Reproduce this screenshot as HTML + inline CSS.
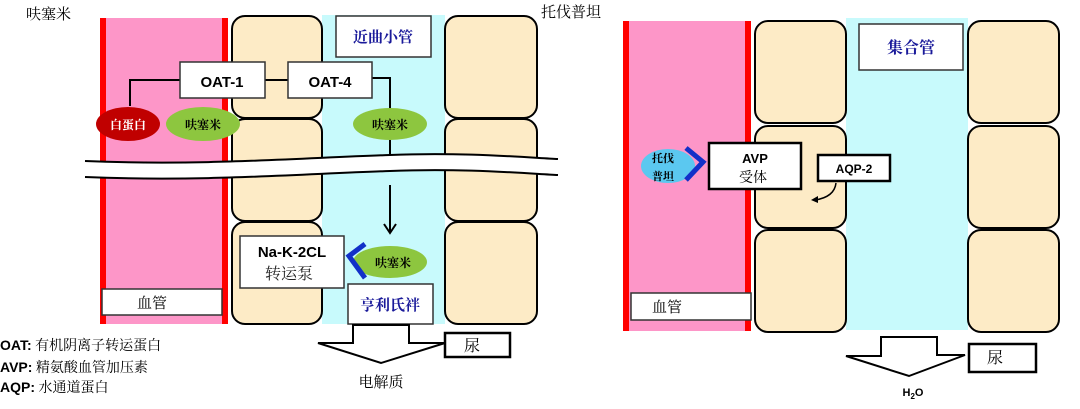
<!DOCTYPE html>
<html><head><meta charset="utf-8"><style>
html,body{margin:0;padding:0;background:#fff;}
svg{display:block;}
text{font-family:"Liberation Serif","Noto Serif CJK SC","Noto Sans CJK SC",serif;}
.b{font-family:"Liberation Sans","Noto Sans CJK SC",sans-serif;font-weight:bold;}
</style></head><body>
<svg width="1080" height="409" viewBox="0 0 1080 409" xmlns="http://www.w3.org/2000/svg">
<!-- LEFT PANEL -->
<text x="26" y="19" font-size="15">呋塞米</text>
<rect x="100" y="18" width="128" height="306" fill="#fd96c8"/>
<rect x="100" y="18" width="6" height="306" fill="#f00"/>
<rect x="222" y="18" width="6" height="306" fill="#f00"/>
<rect x="322" y="15" width="123" height="309" fill="#c8fafc"/>
<g fill="#fdebc6" stroke="#000" stroke-width="2">
<rect x="232" y="16" width="90" height="102" rx="13"/>
<rect x="232" y="119" width="90" height="102" rx="13"/>
<rect x="232" y="222" width="90" height="102" rx="13"/>
<rect x="445" y="16" width="92" height="102" rx="13"/>
<rect x="445" y="119" width="92" height="102" rx="13"/>
<rect x="445" y="222" width="92" height="102" rx="13"/>
</g>
<g fill="none" stroke="#000" stroke-width="2">
<path d="M130,106 V80 H180"/>
<path d="M265,80 H288"/>
<path d="M372,78 H390 V110"/>
<path d="M390,140 V160"/>
<path d="M390,185 V233"/>
<path d="M384,224 L390,233 L396,224"/>
</g>
<path d="M85,161 C200,166 300,158 390,155 C460,152 520,157 558,159 L558,175 C520,173 460,168 390,171 C300,174 200,182 85,177 Z" fill="#fff"/>
<path d="M85,161 C200,166 300,158 390,155 C460,152 520,157 558,159" fill="none" stroke="#000" stroke-width="2"/>
<path d="M85,177 C200,182 300,174 390,171 C460,168 520,173 558,175" fill="none" stroke="#000" stroke-width="2"/>
<g fill="#fff" stroke="#333" stroke-width="1.5">
<rect x="336" y="16" width="95" height="41"/>
<rect x="180" y="62" width="85" height="36"/>
<rect x="288" y="62" width="84" height="36"/>
<rect x="240" y="236" width="104" height="52"/>
<rect x="348" y="284" width="85" height="40"/>
<rect x="102" y="289" width="120" height="26"/>
</g>
<text x="383" y="42" font-size="15" fill="#1a1a9a" text-anchor="middle" font-weight="bold">近曲小管</text>
<text x="222" y="87" class="b" font-size="15" text-anchor="middle">OAT-1</text>
<text x="330" y="87" class="b" font-size="15" text-anchor="middle">OAT-4</text>
<ellipse cx="128" cy="124" rx="32" ry="17" fill="#c00000"/>
<text x="128" y="129" font-size="12" fill="#fff" text-anchor="middle" font-weight="bold">白蛋白</text>
<ellipse cx="203" cy="124" rx="37" ry="17" fill="#8dc63f"/>
<text x="203" y="129" font-size="12" text-anchor="middle" font-weight="bold">呋塞米</text>
<ellipse cx="390" cy="124" rx="37" ry="16" fill="#8dc63f"/>
<text x="390" y="129" font-size="12" text-anchor="middle" font-weight="bold">呋塞米</text>
<ellipse cx="390" cy="262" rx="37" ry="16" fill="#8dc63f"/>
<text x="393" y="267" font-size="12" text-anchor="middle" font-weight="bold">呋塞米</text>
<path d="M365,244 L349,256 L365,278" fill="none" stroke="#1230c8" stroke-width="5"/>
<text x="292" y="257" class="b" font-size="15" text-anchor="middle">Na-K-2CL</text>
<text x="289" y="279" font-size="16" text-anchor="middle" fill="#222">转运泵</text>
<text x="390" y="310" font-size="15" fill="#1a1a9a" text-anchor="middle" font-weight="bold">亨利氏袢</text>
<text x="152" y="308" font-size="15" text-anchor="middle">血管</text>
<path d="M353,325 H409 V343 H445 L381,363 L318,343 H353 Z" fill="#fff" stroke="#000" stroke-width="2"/>
<rect x="445" y="333" width="65" height="24" fill="#fff" stroke="#000" stroke-width="2.5"/>
<text x="472" y="351" font-size="16" text-anchor="middle">尿</text>
<text x="381" y="387" font-size="15" text-anchor="middle">电解质</text>
<text x="0" y="350" font-size="14"><tspan class="b" font-weight="normal">OAT:</tspan> 有机阴离子转运蛋白</text>
<text x="0" y="372" font-size="14"><tspan class="b" font-weight="normal">AVP:</tspan> 精氨酸血管加压素</text>
<text x="0" y="392" font-size="14"><tspan class="b" font-weight="normal">AQP:</tspan>  水通道蛋白</text>

<!-- RIGHT PANEL -->
<text x="541" y="17" font-size="15">托伐普坦</text>
<rect x="623" y="21" width="128" height="310" fill="#fd96c8"/>
<rect x="623" y="21" width="6" height="310" fill="#f00"/>
<rect x="745" y="21" width="6" height="310" fill="#f00"/>
<rect x="846" y="18" width="122" height="312" fill="#c8fafc"/>
<g fill="#fdebc6" stroke="#000" stroke-width="2">
<rect x="755" y="21" width="91" height="102" rx="13"/>
<rect x="755" y="126" width="91" height="102" rx="13"/>
<rect x="755" y="230" width="91" height="102" rx="13"/>
<rect x="968" y="21" width="91" height="102" rx="13"/>
<rect x="968" y="126" width="91" height="102" rx="13"/>
<rect x="968" y="230" width="91" height="102" rx="13"/>
</g>
<g fill="#fff" stroke="#333" stroke-width="1.5">
<rect x="859" y="24" width="104" height="46"/>
<rect x="631" y="293" width="120" height="27"/>
</g>
<text x="911" y="53" font-size="16" fill="#1a1a9a" text-anchor="middle" font-weight="bold">集合管</text>
<text x="667" y="312" font-size="15" text-anchor="middle">血管</text>
<ellipse cx="668" cy="166" rx="27" ry="17" fill="#5bc8f0"/>
<text x="663" y="162" font-size="11" text-anchor="middle" font-weight="bold">托伐</text>
<text x="663" y="180" font-size="11" text-anchor="middle" font-weight="bold">普坦</text>
<path d="M686,148 L703,162 L686,180" fill="none" stroke="#1230c8" stroke-width="5"/>
<rect x="709" y="143" width="92" height="46" fill="#fff" stroke="#000" stroke-width="2.5"/>
<text x="755" y="163" class="b" font-size="13" text-anchor="middle">AVP</text>
<text x="753" y="182" font-size="14" text-anchor="middle">受体</text>
<rect x="818" y="155" width="72" height="26" fill="#fff" stroke="#000" stroke-width="2.5"/>
<text x="854" y="173" class="b" font-size="12" text-anchor="middle">AQP-2</text>
<path d="M836,183 C835,192 828,198 815,200" fill="none" stroke="#000" stroke-width="1.5"/>
<path d="M818,196 L811,200 L818,203 Z" fill="#000"/>
<path d="M881,337 H937 V355 H965 L909,376 L846,356 H881 Z" fill="#fff" stroke="#000" stroke-width="2"/>
<rect x="969" y="344" width="67" height="28" fill="#fff" stroke="#000" stroke-width="2.5"/>
<text x="995" y="363" font-size="16" text-anchor="middle">尿</text>
<text x="913" y="396" class="b" font-size="11" text-anchor="middle">H<tspan font-size="8" dy="3">2</tspan><tspan dy="-3">O</tspan></text>
</svg>
</body></html>
